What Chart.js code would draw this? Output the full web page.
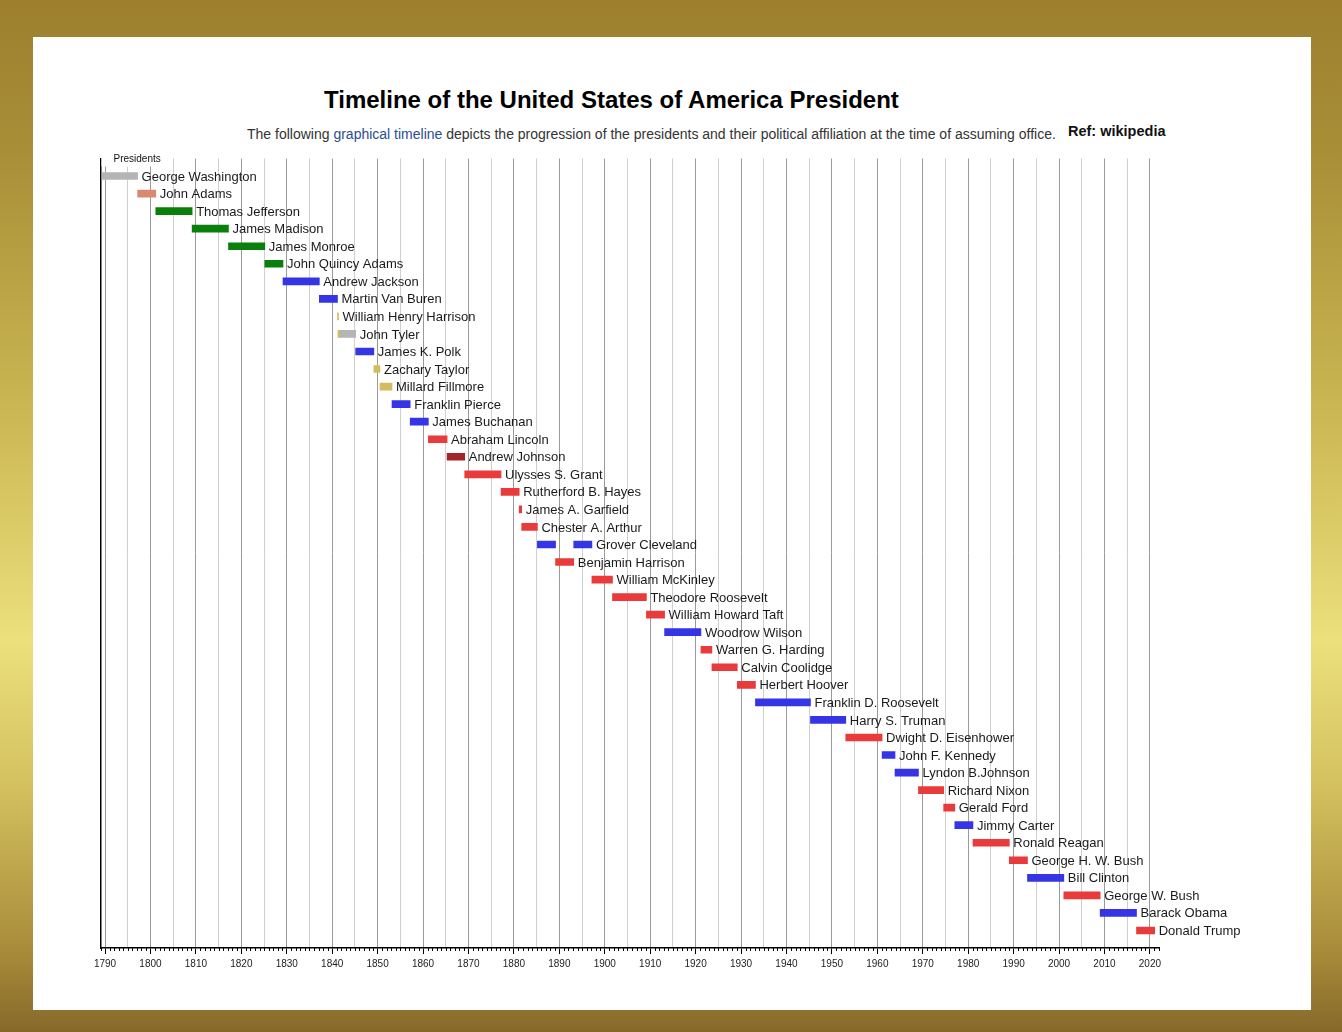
<!DOCTYPE html>
<html>
<head>
<meta charset="utf-8">
<script src="https://cdn.jsdelivr.net/npm/chart.js@4"></script>
<style>
  html, body { margin: 0; padding: 0; }
  body {
    width: 1342px; height: 1032px; position: relative; overflow: hidden;
    font-family: "Liberation Sans", Arial, sans-serif;
    background: linear-gradient(to bottom, #9d7f2e 0%, #a98f38 15%, #cbb753 40%, #ebe07c 62%, #d6c462 75%, #a98c3a 92%, #86692a 100%);
  }
  #panel { position: absolute; left: 33px; top: 37px; width: 1278px; height: 973px; background: #fff; }
  #title { position: absolute; left: 324px; top: 86px; font-size: 24px; font-weight: bold; color: #000; white-space: nowrap; }
  #sub { position: absolute; left: 247px; top: 126px; font-size: 14px; color: #333; white-space: nowrap; }
  #sub span { color: #2b4d8f; }
  #ref { position: absolute; left: 1068px; top: 123px; font-size: 14.5px; font-weight: bold; color: #111; white-space: nowrap; }
  #wrap { position: absolute; left: 0; top: 0; width: 1342px; height: 1032px; }
</style>
</head>
<body>
<div id="panel"></div>
<div id="title">Timeline of the United States of America President</div>
<div id="sub">The following <span>graphical timeline</span> depicts the progression of the presidents and their political affiliation at the time of assuming office.</div>
<div id="ref">Ref: wikipedia</div>
<div id="wrap"><canvas id="myChart"></canvas></div>
<script>
var names = ["George Washington", "John Adams", "Thomas Jefferson", "James Madison", "James Monroe",
  "John Quincy Adams", "Andrew Jackson", "Martin Van Buren", "William Henry Harrison", "John Tyler",
  "James K. Polk", "Zachary Taylor", "Millard Fillmore", "Franklin Pierce", "James Buchanan",
  "Abraham Lincoln", "Andrew Johnson", "Ulysses S. Grant", "Rutherford B. Hayes", "James A. Garfield",
  "Chester A. Arthur", "Grover Cleveland", "Benjamin Harrison", "William McKinley", "Theodore Roosevelt",
  "William Howard Taft", "Woodrow Wilson", "Warren G. Harding", "Calvin Coolidge", "Herbert Hoover",
  "Franklin D. Roosevelt", "Harry S. Truman", "Dwight D. Eisenhower", "John F. Kennedy", "Lyndon B.Johnson",
  "Richard Nixon", "Gerald Ford", "Jimmy Carter", "Ronald Reagan", "George H. W. Bush",
  "Bill Clinton", "George W. Bush", "Barack Obama", "Donald Trump"];

// first (or only) term segment
var termStart = [1789.33, 1797.17, 1801.17, 1809.17, 1817.17, 1825.17, 1829.17, 1837.17, 1841.17, 1841.26,
  1845.17, 1849.17, 1850.52, 1853.17, 1857.17, 1861.17, 1865.29, 1869.17, 1877.17, 1881.17,
  1881.72, 1885.17, 1889.17, 1897.17, 1901.7, 1909.17, 1913.17, 1921.17, 1923.59, 1929.17,
  1933.17, 1945.28, 1953.05, 1961.05, 1963.89, 1969.05, 1974.6, 1977.05, 1981.05, 1989.05,
  1993.05, 2001.05, 2009.05, 2017.05];
var termEnd = [1797.17, 1801.17, 1809.17, 1817.17, 1825.17, 1829.17, 1837.17, 1841.17, 1841.26, 1841.7,
  1849.17, 1850.52, 1853.17, 1857.17, 1861.17, 1865.29, 1869.17, 1877.17, 1881.17, 1881.72,
  1885.17, 1889.17, 1893.17, 1901.7, 1909.17, 1913.17, 1921.17, 1923.59, 1929.17, 1933.17,
  1945.28, 1953.05, 1961.05, 1963.89, 1969.05, 1974.6, 1977.05, 1981.05, 1989.05, 1993.05,
  2001.05, 2009.05, 2017.05, 2021.05];
var party = ["none", "fed", "dr", "dr", "dr", "dr", "dem", "dem", "whig", "whig",
  "dem", "whig", "whig", "dem", "dem", "rep", "union", "rep", "rep", "rep",
  "rep", "dem", "rep", "rep", "rep", "rep", "dem", "rep", "rep", "rep",
  "dem", "dem", "rep", "dem", "dem", "rep", "rep", "dem", "rep", "rep",
  "dem", "rep", "dem", "rep"];

// second segment (Tyler after leaving the Whigs, Cleveland's second term)
var secondStart = {"John Tyler": 1841.7, "Grover Cleveland": 1893.17};
var secondEnd = {"John Tyler": 1845.17, "Grover Cleveland": 1897.17};
var secondParty = {"John Tyler": "none", "Grover Cleveland": "dem"};

var partyColors = {
  none: "#b5b5b5", fed: "#d98a6e", dr: "#0b7f0b", dem: "#3535e6",
  whig: "#d4bc5e", rep: "#e93b3b", union: "#a32529"
};

var yLabels = ["Presidents"].concat(names).concat([""]);

var seg1 = [null], col1 = ["#fff"], seg2 = [null], col2 = ["#fff"];
for (var i = 0; i < names.length; i++) {
  seg1.push([termStart[i], termEnd[i]]);
  col1.push(partyColors[party[i]]);
  var n = names[i];
  if (secondStart[n] !== undefined) {
    seg2.push([secondStart[n], secondEnd[n]]);
    col2.push(partyColors[secondParty[n]]);
  } else {
    seg2.push(null);
    col2.push("#fff");
  }
}
seg1.push(null); col1.push("#fff"); seg2.push(null); col2.push("#fff");

// names right of bars + "Presidents" header + minor year ticks
var timelineLabels = {
  id: 'timelineLabels',
  afterDraw: function (chart) {
    var c = chart.ctx, area = chart.chartArea, xs = chart.scales.x;
    var m1 = chart.getDatasetMeta(0), m2 = chart.getDatasetMeta(1);
    c.save();
    // minor ticks
    c.strokeStyle = '#000';
    c.lineWidth = 1;
    c.beginPath();
    for (var v = 1789; v <= 2022; v++) {
      if (v % 10 === 0) continue;
      var px = Math.round(xs.getPixelForValue(v)) + 0.5;
      c.moveTo(px, area.bottom);
      c.lineTo(px, area.bottom + 3);
    }
    c.stroke();
    // header
    c.fillStyle = '#fff';
    c.fillRect(area.left + 1, area.top - 7, 66, 15);
    c.fillStyle = '#111';
    c.font = '10px "Liberation Sans", Arial, sans-serif';
    c.textBaseline = 'middle';
    c.fillText('Presidents', area.left + 13, area.top + 1);
    // name labels
    c.font = '13px "Liberation Sans", Arial, sans-serif';
    c.fillStyle = '#1a1a1a';
    for (var k = 1; k <= names.length; k++) {
      var e1 = m1.data[k], e2 = m2.data[k];
      var right = Math.max(e1.x, e1.base);
      if (seg2[k]) right = Math.max(right, e2.x, e2.base);
      c.fillText(names[k - 1], right + 4, e1.y + 1);
    }
    c.restore();
  }
};

var ctx = document.getElementById("myChart").getContext('2d');
var myChart = new Chart(ctx, {
  type: 'bar',
  data: {
    labels: yLabels,
    datasets: [
      { label: 'Term', data: seg1, backgroundColor: col1, barThickness: 7, minBarLength: 1, grouped: false, borderWidth: 0 },
      { label: 'Second term', data: seg2, backgroundColor: col2, barThickness: 7, grouped: false, borderWidth: 0 }
    ]
  },
  plugins: [timelineLabels],
  options: {
    indexAxis: 'y',
    responsive: true,
    maintainAspectRatio: false,
    animation: false,
    layout: { padding: { left: 100.5, top: 158.5, right: 183, bottom: 54 } },
    plugins: { legend: { display: false }, tooltip: { enabled: false }, title: { display: false } },
    scales: {
      x: {
        type: 'linear', min: 1789, max: 2022, position: 'bottom',
        ticks: {
          stepSize: 1, autoSkip: false, maxRotation: 0, padding: 4, color: '#222',
          font: { family: '"Liberation Sans", Arial, sans-serif', size: 10 },
          callback: function (v) { return v % 10 === 0 ? String(v) : ''; }
        },
        grid: {
          tickLength: 6,
          color: function (c) {
            if (!c.tick) return 'rgba(0,0,0,0)';
            var v = c.tick.value;
            if (v % 10 === 0) return '#9a9a9a';
            if (v % 5 === 0) return '#cfcfcf';
            return 'rgba(0,0,0,0)';
          },
          tickColor: function (c) {
            return c.tick && c.tick.value % 10 === 0 ? '#000' : 'rgba(0,0,0,0)';
          }
        },
        border: { color: '#000', width: 1.5 },
        afterFit: function (s) { s.height = 30; }
      },
      y: {
        type: 'category', offset: false,
        ticks: { display: false },
        grid: {
          drawTicks: false,
          color: function (c) { return c.index === 0 ? '#a8a8a8' : 'rgba(0,0,0,0)'; }
        },
        border: { color: '#000', width: 1.5 },
        afterFit: function (s) { s.width = 0; }
      }
    }
  }
});
</script>
</body>
</html>
